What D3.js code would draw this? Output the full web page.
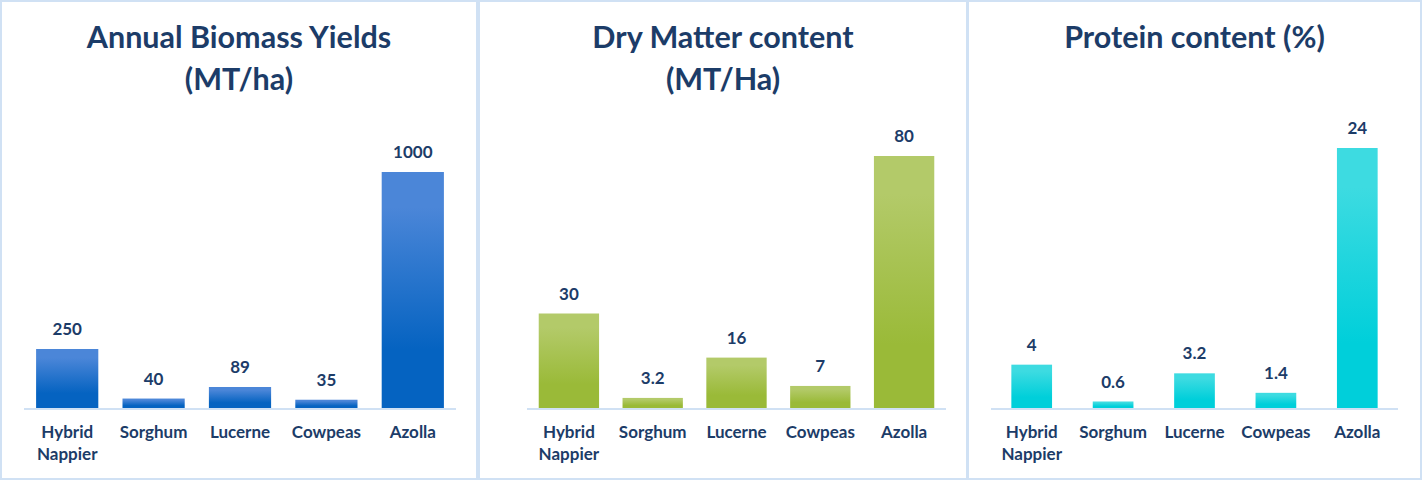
<!DOCTYPE html>
<html>
<head>
<meta charset="utf-8">
<script src="https://cdn.jsdelivr.net/npm/d3@7"></script>
<style>
    body { margin: 0; background: #ffffff; }
    svg { display: block; }
</style>
</head>
<body>
<div id="chart"></div>
<script>
// values
const categories = ["Hybrid Nappier", "Sorghum", "Lucerne", "Cowpeas", "Azolla"];
const biomassYields = [250, 40, 89, 35, 1000];
const dryMatter = [30, 3.2, 16, 7, 80];
const proteinContent = [4, 0.6, 3.2, 1.4, 24];

const biomassTitle = ["Annual Biomass Yields", "(MT/ha)"];
const dryMatterTitle = ["Dry Matter content", "(MT/Ha)"];
const proteinTitle = ["Protein content (%)"];

function drawCharts() {
    const overall_width = 1422;
    const overall_height = 480;
    const borderColor = "#d0e1f4";
    const textColor = "#1c3c68";
    const fontFamily = "Lato, 'Open Sans', sans-serif";
    const baseY = 408;

    let svg = d3.select("#chart")
        .append("svg")
        .attr("width", overall_width)
        .attr("height", overall_height);

    //Background
    svg.append("rect")
        .attr("width", "100%")
        .attr("height", "100%")
        .attr("fill", "#ffffff");

    let defs = svg.append("defs");

    //panel layout, one entry per chart
    const panels = [
        {id: "biomass", title: biomassTitle, values: biomassYields, left: 0, right: 478,
            xRange: [24, 456], padding: 0.28, topY: 172, colors: ["#4b86d8", "#0563c1"]},
        {id: "dry", title: dryMatterTitle, values: dryMatter, left: 478, right: 968,
            xRange: [527, 946], padding: 0.28, topY: 156, colors: ["#b3ca69", "#9aba38"]},
        {id: "protein", title: proteinTitle, values: proteinContent, left: 967, right: 1422,
            xRange: [991, 1398], padding: 0.5, topY: 148, colors: ["#3ddbe1", "#00cfda"]}
    ];

    panels.forEach(function(p) {
        //gradient for the bars (top lighter, bottom darker)
        let grad = defs.append("linearGradient")
            .attr("id", "grad-" + p.id)
            .attr("x1", 0).attr("y1", 0)
            .attr("x2", 0).attr("y2", 1);
        grad.append("stop").attr("offset", "0%").attr("stop-color", p.colors[0]);
        grad.append("stop").attr("offset", "15%").attr("stop-color", p.colors[0]);
        grad.append("stop").attr("offset", "75%").attr("stop-color", p.colors[1]);
        grad.append("stop").attr("offset", "100%").attr("stop-color", p.colors[1]);

        let g = svg.append("g").attr("class", "panel");

        //panel frame
        g.append("rect")
            .attr("x", p.left + 1)
            .attr("y", 1)
            .attr("width", p.right - p.left - 2)
            .attr("height", overall_height - 2)
            .attr("fill", "none")
            .attr("stroke", borderColor)
            .attr("stroke-width", 2);

        //title
        let cx = (p.left + p.right) / 2;
        g.append("text")
            .attr("x", cx)
            .attr("y", 48)
            .attr("text-anchor", "middle")
            .attr("fill", textColor)
            .attr("font-family", fontFamily)
            .attr("font-weight", 700)
            .attr("font-size", "30.5px")
            .selectAll("tspan")
            .data(p.title)
            .join("tspan")
            .attr("x", cx)
            .attr("dy", (d, i) => i === 0 ? 0 : 42)
            .text(d => d);

        let scaleX = d3.scaleBand()
            .domain(categories)
            .range(p.xRange)
            .paddingInner(p.padding)
            .paddingOuter(p.padding / 2);
        let scaleY = d3.scaleLinear()
            .domain([0, d3.max(p.values)])
            .range([baseY, p.topY]);

        let rows = categories.map((c, i) => ({cat: c, value: p.values[i]}));

        //bars
        g.selectAll(".bar")
            .data(rows)
            .join("rect")
            .attr("class", "bar")
            .attr("x", d => scaleX(d.cat))
            .attr("y", d => scaleY(d.value))
            .attr("width", scaleX.bandwidth())
            .attr("height", d => baseY - scaleY(d.value))
            .attr("fill", `url(#grad-${p.id})`);

        //value labels
        g.selectAll(".value")
            .data(rows)
            .join("text")
            .attr("class", "value")
            .attr("x", d => scaleX(d.cat) + scaleX.bandwidth() / 2)
            .attr("y", d => scaleY(d.value) - 14)
            .attr("text-anchor", "middle")
            .attr("fill", textColor)
            .attr("font-family", fontFamily)
            .attr("font-weight", 700)
            .attr("font-size", "17px")
            .text(d => d.value);

        //category axis
        let axis = g.append("g")
            .attr("transform", `translate(0, ${baseY})`)
            .call(d3.axisBottom(scaleX).tickSize(0).tickPadding(0));
        axis.select(".domain")
            .attr("stroke", borderColor)
            .attr("stroke-width", 2)
            .attr("d", `M${p.xRange[0]},1H${p.xRange[1]}`);
        axis.selectAll(".tick text")
            .attr("fill", textColor)
            .attr("font-family", fontFamily)
            .attr("font-weight", 700)
            .attr("font-size", "17px")
            .attr("y", 30)
            .attr("dy", 0)
            .each(function(d) {
                let words = d.split(" ");
                let t = d3.select(this).text(null);
                words.forEach(function(w, i) {
                    t.append("tspan")
                        .attr("x", 0)
                        .attr("dy", i === 0 ? 0 : 22)
                        .text(w);
                });
            });
    });
}
drawCharts();
</script>
</body>
</html>
